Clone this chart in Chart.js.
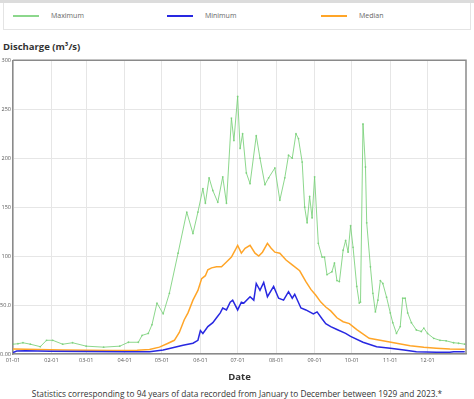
<!DOCTYPE html>
<html>
<head>
<meta charset="utf-8">
<script src="https://cdn.jsdelivr.net/npm/chart.js@4.4.0/dist/chart.umd.min.js"></script>
<style>
  body { margin: 0; background: #fff; font-family: "Open Sans", sans-serif; }
  #topbar { position: absolute; left: 0; top: 0; width: 474px; height: 3px; background: #dcdcdc; }
  #legend { position: absolute; left: 3px; top: 3px; width: 466px; height: 26px; border: 1px solid #e4e4e4; border-top: none; }
  .item { position: absolute; top: 8px; font-size: 7px; color: #666; line-height: 10px; }
  .item span { display: inline-block; width: 26px; height: 2px; vertical-align: middle; margin-right: 12px; }
  #ytitle { position: absolute; left: 3px; top: 40px; font-size: 9.5px; font-weight: bold; color: #333; }
  #chartBox { position: absolute; left: 0; top: 55px; width: 474px; height: 330px; }
  #note { position: absolute; left: 0; top: 388px; width: 474px; text-align: center; font-size: 8.3px; color: #333; white-space: nowrap; }
</style>
</head>
<body>
<div id="topbar"></div>
<div id="legend"></div>
<div id="ytitle">Discharge (m³/s)</div>
<div id="chartBox"><canvas id="flowChart" width="474" height="330"></canvas></div>
<div id="note">Statistics corresponding to 94 years of data recorded from January to December between 1929 and 2023.*</div>

<script>
// ---------- data (day of year) ----------
const monthStarts = [0, 31, 59, 90, 120, 151, 181, 212, 243, 273, 304, 334];
const monthLabels = ['01-01', '02-01', '03-01', '04-01', '05-01', '06-01', '07-01', '08-01', '09-01', '10-01', '11-01', '12-01'];
const yTickLabels = ['0.00', '50.0', '100', '150', '200', '250', '300'];

const maxDays = [0, 4, 8, 14, 22, 27, 32, 40, 48, 59, 73, 86, 93, 101, 104, 109, 112, 116, 121, 126, 133, 140, 145, 149, 153, 155, 158, 161, 165, 169, 172, 176, 178, 181, 183, 185, 188, 191, 196, 199, 203, 206, 211, 215, 219, 222, 225, 228, 230, 233, 235, 237, 239, 241, 243, 246, 249, 251, 253, 257, 259, 261, 263, 266, 268, 270, 272, 274, 277, 279, 280, 282, 284, 285, 288, 290, 292, 294, 296, 298, 301, 304, 306, 309, 312, 314, 316, 318, 321, 325, 329, 331, 334, 339, 344, 349, 355, 359, 364];
const maximum = [10, 10.5, 11.5, 10, 7.5, 14, 14, 10, 11.5, 8, 7, 8, 12, 12, 19, 21, 30, 52, 41, 62, 103, 145, 123, 145, 169, 154, 180, 167, 155, 181, 154, 241, 218, 263, 210, 225, 185, 174, 223, 200, 173, 180, 190, 157, 180, 203, 200, 225, 220, 196, 150, 134, 161, 139, 181, 113, 99, 99, 81, 84, 93, 75, 74, 106, 116, 104, 131, 109, 69, 52, 53, 235, 191, 134, 89, 62, 43, 55, 75, 72, 58, 42, 32, 21, 28, 57, 57, 42, 32, 24.5, 23, 26.5, 21, 16, 14, 13.5, 11.5, 11, 10];

const minDays = [0, 3, 10, 30, 60, 90, 110, 121, 132, 137, 145, 149, 151, 153, 157, 161, 164, 167, 169, 172, 175, 177, 181, 184, 186, 191, 194, 196, 199, 202, 205, 210, 214, 218, 222, 225, 227, 232, 236, 242, 245, 249, 252, 256, 261, 268, 272, 282, 293, 304, 315, 325, 341, 352, 355, 364];
const minimum = [1.5, 3, 3.2, 2.8, 2.5, 2.2, 2.4, 4, 7.5, 9, 11, 14, 24, 21, 28, 32, 37, 42, 47, 45, 53, 55, 45, 53, 52, 58.5, 55, 72, 65, 73, 58.5, 69, 57, 55, 63.6, 57, 61, 47, 45, 41, 43, 36, 31, 28, 25, 21, 18, 12, 7.5, 5.8, 4, 2.4, 1.7, 1.7, 2.4, 2.4];

const medDays = [0, 20, 40, 60, 80, 100, 110, 118, 125, 130, 134, 138, 141, 145, 149, 152, 155, 157, 160, 164, 168, 172, 176, 179, 181, 184, 187, 191, 195, 198, 201, 205, 208, 211, 215, 220, 225, 231, 236, 240, 244, 248, 252, 256, 261, 266, 271, 277, 287, 298, 309, 320, 331, 341, 352, 364];
const median = [5, 4.5, 4, 3.8, 3.6, 3.8, 4.5, 7, 11, 14, 22, 35, 42, 55, 65, 77, 80, 86, 88, 89, 89, 94, 99, 106, 111, 103, 108, 111, 103, 100, 104, 113, 108, 104, 103, 96, 91, 85, 74, 66, 60, 53, 48, 44, 37, 33, 31, 25, 16, 13.6, 11, 8.5, 6.8, 5.8, 5, 4.8];

const seriesNames = ['Maximum', 'Minimum', 'Median'];
const seriesColors = ['rgba(120, 208, 120, 0.85)', 'rgb(40, 40, 225)', 'rgb(255, 165, 40)'];

function pairs(days, vals) {
    return days.map((d, i) => ({ x: d, y: vals[i] }));
}

// ---------- html legend ----------
const legendBox = document.getElementById('legend');
const legendLeft = [9, 163, 317];
seriesNames.forEach((name, i) => {
    const el = document.createElement('div');
    el.className = 'item';
    el.style.left = legendLeft[i] + 'px';
    el.innerHTML = '<span style="background:' + seriesColors[i] + '"></span>' + name;
    legendBox.appendChild(el);
});

// draws the grey frame on top and right of the plot
const frame = {
    id: 'frame',
    afterDatasetsDraw(chart) {
        const { ctx, chartArea: a } = chart;
        ctx.save();
        ctx.strokeStyle = '#8a8a8a';
        ctx.lineWidth = 1.5;
        ctx.beginPath();
        ctx.moveTo(a.left, a.top);
        ctx.lineTo(a.right, a.top);
        ctx.lineTo(a.right, a.bottom);
        ctx.stroke();
        ctx.restore();
    }
};

const ctx = document.getElementById('flowChart');
new Chart(ctx, {
    type: 'line',
    data: {
        datasets: [
            { label: seriesNames[0], data: pairs(maxDays, maximum), borderColor: seriesColors[0], backgroundColor: seriesColors[0], borderWidth: 1, pointRadius: 0.9, pointBorderWidth: 0 },
            { label: seriesNames[1], data: pairs(minDays, minimum), borderColor: seriesColors[1], borderWidth: 1.5, pointRadius: 0 },
            { label: seriesNames[2], data: pairs(medDays, median), borderColor: seriesColors[2], borderWidth: 1.5, pointRadius: 0 }
        ]
    },
    options: {
        responsive: false,
        animation: false,
        devicePixelRatio: 1,
        layout: { padding: { top: 5, right: 8, left: 0, bottom: 0 } },
        plugins: {
            legend: { display: false },
            tooltip: { enabled: false }
        },
        scales: {
            x: {
                type: 'linear',
                min: 0,
                max: 365,
                afterBuildTicks: axis => { axis.ticks = monthStarts.map(v => ({ value: v })); },
                afterFit: s => { s.height = 31; },
                ticks: {
                    autoSkip: false,
                    maxRotation: 0,
                    padding: 3,
                    color: '#555',
                    font: { size: 5.5, family: 'Open Sans' },
                    callback: (v, i) => monthLabels[i]
                },
                grid: { color: '#e6e6e6', drawTicks: false },
                border: { color: '#8a8a8a', width: 1.5 },
                title: {
                    display: true,
                    text: 'Date',
                    color: '#333',
                    font: { size: 9.5, weight: 'bold', family: 'Open Sans' },
                    padding: { top: 0, bottom: 2 }
                }
            },
            y: {
                min: 0,
                max: 300,
                afterFit: s => { s.width = 13; },
                ticks: {
                    stepSize: 50,
                    padding: 2,
                    color: '#555',
                    font: { size: 5.5, family: 'Open Sans' },
                    callback: v => yTickLabels[v / 50]
                },
                grid: { color: '#e6e6e6', drawTicks: false },
                border: { color: '#8a8a8a', width: 1.5 }
            }
        }
    },
    plugins: [frame]
});
</script>
</body>
</html>
